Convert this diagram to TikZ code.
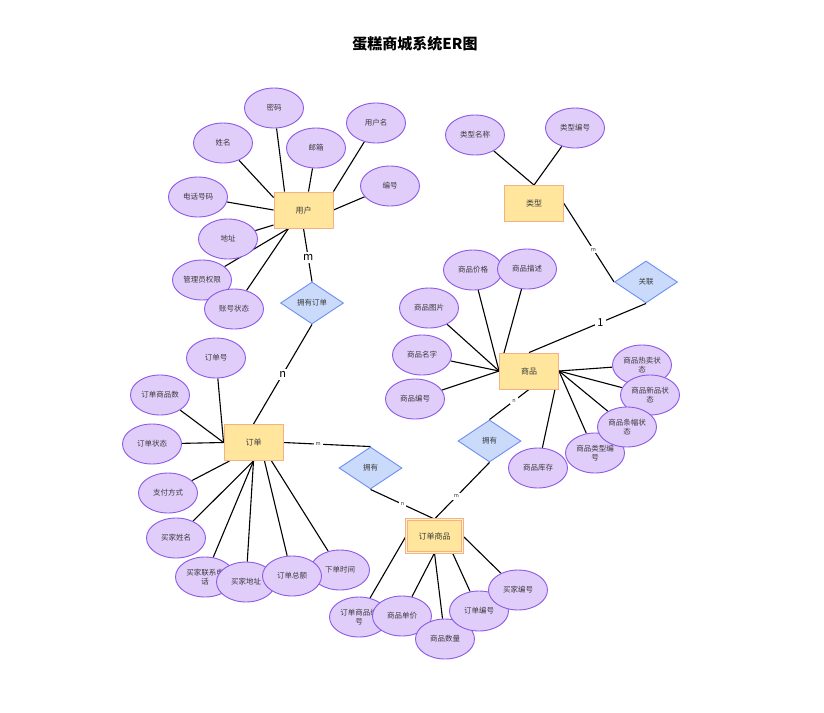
\documentclass[tikz,border=0pt]{standalone}
\usepackage{fontspec}
\newfontfamily\cjk{Noto Sans CJK SC}
\usetikzlibrary{shapes.geometric}
\pgfdeclarelayer{bg}
\pgfsetlayers{bg,main}
\definecolor{attrfill}{RGB}{225,205,250}
\definecolor{attrline}{RGB}{140,90,230}
\definecolor{entfill}{RGB}{255,230,156}
\definecolor{entline}{RGB}{244,177,131}
\definecolor{relfill}{RGB}{201,218,250}
\definecolor{relline}{RGB}{108,142,245}
\definecolor{txt}{RGB}{60,60,60}
\begin{document}
\begin{tikzpicture}[x=1pt,y=-1pt,
 attr/.style={ellipse, draw=attrline, fill=attrfill, line width=0.9pt, minimum width=59pt, minimum height=40pt, inner sep=0pt, font=\cjk\fontsize{7.5}{9.5}\selectfont, text=txt, align=center},
 ent/.style={rectangle, draw=entline, fill=entfill, line width=0.9pt, minimum width=59pt, minimum height=36pt, inner sep=0pt, font=\cjk\fontsize{8}{10}\selectfont, text=txt},
 went/.style={ent, double=entfill!55!white, double distance=1.6pt, minimum width=56pt, minimum height=33pt},
 rel/.style={diamond, draw=relline, fill=relfill, line width=0.9pt, minimum width=63pt, minimum height=42pt, inner sep=0pt, aspect=1.5, font=\cjk\fontsize{7.5}{9}\selectfont, text=txt},
 conn/.style={line width=1.1pt, black},
 card/.style={fill=white, inner sep=2pt, font=\cjk\fontsize{5.5}{6}\selectfont, text=txt},
 cardbig/.style={fill=white, inner sep=2.5pt, font=\cjk\fontsize{11}{12}\selectfont, text=black},
]
\useasboundingbox (0,0) rectangle (824,712);
\node[font=\cjk\bfseries\fontsize{15}{18}\selectfont] (title) at (415,44) {蛋糕商城系统ER图};

% 用户
\node[ent] (user) at (303.5,210) {用户};
\node[attr] (a_mima) at (274,108) {密码};
\node[attr] (a_xingming) at (223,143) {姓名};
\node[attr] (a_youxiang) at (316,148) {邮箱};
\node[attr] (a_yonghuming) at (376,123) {用户名};
\node[attr] (a_bianhao) at (390,186) {编号};
\node[attr] (a_dianhua) at (198,197) {电话号码};
\node[attr] (a_dizhi) at (228,239) {地址};
\node[attr] (a_guanli) at (202,280) {管理员权限};
\node[attr] (a_zhuangtai) at (234,309) {账号状态};
\node[rel] (r_yydd) at (312,303) {拥有订单};

% 订单
\node[ent] (order) at (253.5,442.5) {订单};
\node[attr] (o_hao) at (216,358) {订单号};
\node[attr] (o_shu) at (160,395) {订单商品数};
\node[attr] (o_zt) at (152,444) {订单状态};
\node[attr] (o_zf) at (168,493) {支付方式};
\node[attr] (o_xm) at (176,538) {买家姓名};
\node[attr] (o_dh) at (205,577) {买家联系电\\话};
\node[attr] (o_dz) at (246,582) {买家地址};
\node[attr] (o_sj) at (340,570) {下单时间};
\node[attr] (o_ze) at (292,576) {订单总额};
\node[rel] (r_yy1) at (370.5,468) {拥有};

% 订单商品
\node[went] (oi) at (434.5,536) {订单商品};
\node[attr] (i_bh) at (359,617) {订单商品编\\号};
\node[attr] (i_dj) at (402,616) {商品单价};
\node[attr] (i_sl) at (445,639) {商品数量};
\node[attr] (i_ddbh) at (479,611) {订单编号};
\node[attr] (i_mjbh) at (518,590) {买家编号};
\node[rel] (r_yy2) at (489.5,441) {拥有};

% 商品
\node[ent] (prod) at (529,371) {商品};
\node[attr] (p_jg) at (473,270) {商品价格};
\node[attr] (p_ms) at (527,269) {商品描述};
\node[attr] (p_tp) at (429,308) {商品图片};
\node[attr] (p_mz) at (422,355) {商品名字};
\node[attr] (p_bh) at (415,399) {商品编号};
\node[attr] (p_rm) at (642,365) {商品热卖状\\态};
\node[attr] (p_xp) at (650,395) {商品新品状\\态};
\node[attr] (p_lx) at (595,453) {商品类型编\\号};
\node[attr] (p_tf) at (627,427) {商品条幅状\\态};
\node[attr] (p_kc) at (538,468) {商品库存};

% 类型
\node[ent] (type) at (534,203.5) {类型};
\node[attr] (t_mc) at (475,135) {类型名称};
\node[attr] (t_bh) at (575,128) {类型编号};
\node[rel] (r_gl) at (646,282) {关联};

\begin{pgfonlayer}{bg}
\fill[white] (0,0) rectangle (824,712);
% user attributes
\draw[conn] (a_xingming) -- ([yshift=-6]user.north west);
\draw[conn] (a_mima) -- ([xshift=11]user.north west);
\draw[conn] (a_youxiang) -- ([xshift=5]user.north);
\draw[conn] (a_yonghuming) -- (user.north east);
\draw[conn] (a_bianhao) -- (user.east);
\draw[conn] (a_dianhua) -- (user.west);
\draw[conn] (a_dizhi) -- ([yshift=-15]user.west);
\draw[conn] (a_guanli) -- ([xshift=-15]user.south);
\draw[conn] (a_zhuangtai) -- ([xshift=-15]user.south);
\draw[conn] (user.south) -- node[cardbig, pos=0.55] {m} (r_yydd.north);
\draw[conn] (r_yydd.south) -- node[cardbig, pos=0.5] {n} (order.north);
% order attributes
\draw[conn] (o_hao) -- (order.west);
\draw[conn] (o_shu) -- (order.west);
\draw[conn] (o_zt) -- (order.west);
\draw[conn] (o_zf) -- ([xshift=6]order.south west);
\draw[conn] (o_xm) -- (order.south);
\draw[conn] (o_dh) -- (order.south);
\draw[conn] (o_dz) -- (order.south);
\draw[conn] (o_ze) -- ([xshift=11]order.south);
\draw[conn] (o_sj) -- ([xshift=18]order.south);
\draw[conn] (order.east) -- node[card, pos=0.4] {m} (r_yy1.north);
\draw[conn] (r_yy1.south) -- node[card, pos=0.5] {n} (oi.north);
% order item attributes
\draw[conn] (i_bh) -- (oi.west);
\draw[conn] (i_dj) -- (oi.south);
\draw[conn] (i_sl) -- (oi.south);
\draw[conn] (i_ddbh) -- ([xshift=18]oi.south);
\draw[conn] (i_mjbh) -- (oi.east);
\draw[conn] (prod.south) -- node[card, pos=0.38] {n} (r_yy2.north);
\draw[conn] (r_yy2.south) -- node[card, pos=0.6] {m} (oi.north);
% product attributes
\draw[conn] (p_jg) -- (prod.west);
\draw[conn] (p_ms) -- (prod.west);
\draw[conn] (p_tp) -- (prod.west);
\draw[conn] (p_mz) -- (prod.west);
\draw[conn] (p_bh) -- (prod.west);
\draw[conn] (p_rm) -- (prod.east);
\draw[conn] (p_xp) -- (prod.east);
\draw[conn] (p_tf) -- (prod.east);
\draw[conn] (p_lx) -- (prod.east);
\draw[conn] (p_kc) -- (prod.east);
\draw[conn] (r_gl.south) -- node[cardbig, pos=0.39] {1} (prod.north);
% type
\draw[conn] (t_mc) -- (type.north);
\draw[conn] (t_bh) -- (type.north);
\draw[conn] (type.east) -- node[card, pos=0.59] {m} (r_gl.west);
\end{pgfonlayer}
\end{tikzpicture}
\end{document}
